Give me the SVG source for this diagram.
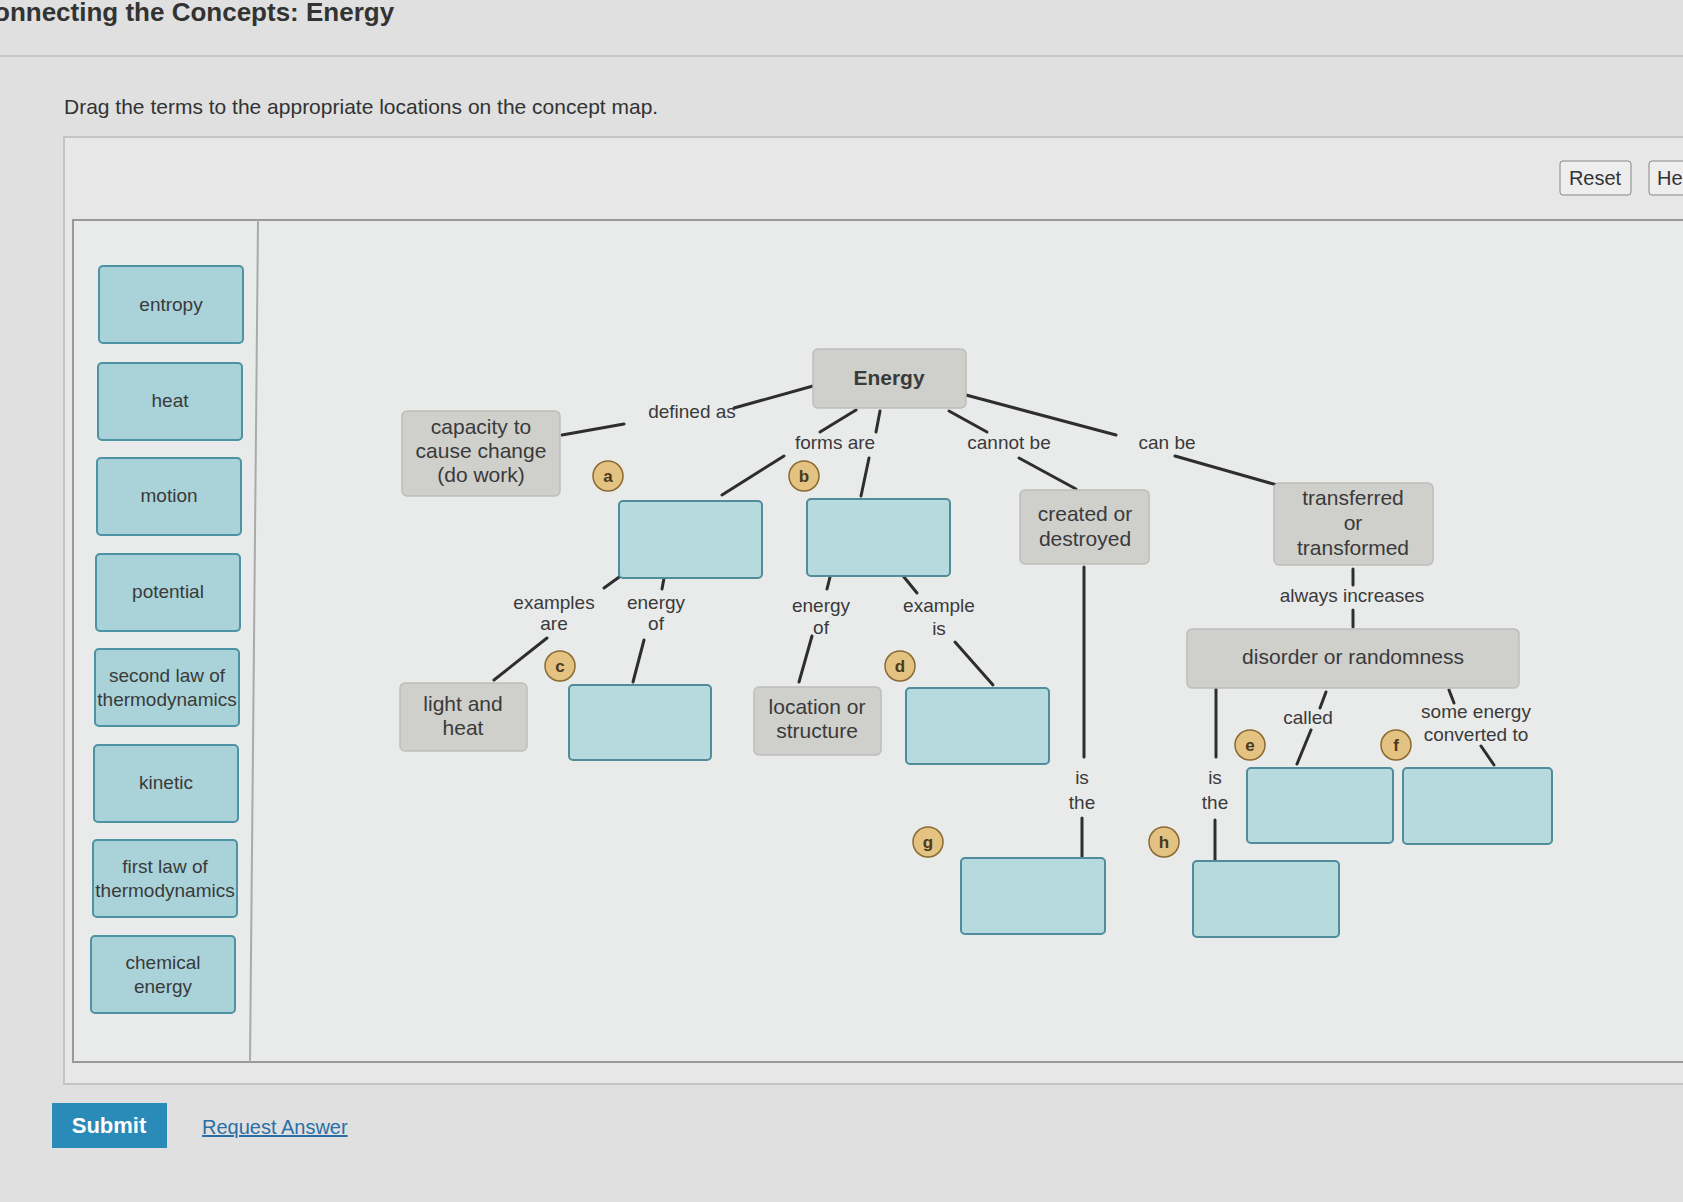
<svg xmlns="http://www.w3.org/2000/svg" width="1683" height="1202" viewBox="0 0 1683 1202">
<style>
text{font-family:"Liberation Sans",Arial,sans-serif;fill:#333}
.tile{fill:#a9d3d9;stroke:#4d93a3;stroke-width:2}
.tt{font-size:19px;text-anchor:middle;fill:#3a3a3a}
.node{fill:#cfcfcc;stroke:#bdbdba;stroke-width:1.5}
.nt{font-size:21px;text-anchor:middle;fill:#3a3a3a}
.drop{fill:#b7dadf;stroke:#4f8d9a;stroke-width:2}
.lab{font-size:19px;text-anchor:middle;fill:#3a3a3a}
.c{stroke:#2e2e2e;stroke-width:3;fill:none;stroke-linecap:round}
.badge circle{fill:#e4c282;stroke:#8a6a30;stroke-width:1.5}
.badge text{font-size:17px;text-anchor:middle;font-weight:bold;fill:#4a3a20}
.white{fill:#fff}
.link{fill:#2a6fa8}
</style>
<rect width="1683" height="1202" fill="#dfe0df"/>
<text x="-6" y="21" font-size="26" font-weight="bold" fill="#444">onnecting the Concepts: Energy</text>
<line x1="0" y1="56" x2="1683" y2="56" stroke="#c8c8c8" stroke-width="2"/>
<text x="64" y="114" font-size="21" fill="#3a3a3a">Drag the terms to the appropriate locations on the concept map.</text>
<rect x="64" y="137" width="1640" height="947" fill="#e6e7e6" stroke="#c4c4c4" stroke-width="2"/>
<rect x="73" y="220" width="1640" height="842" fill="#e9eaea" stroke="#999" stroke-width="2"/>
<line x1="258" y1="220" x2="250" y2="1062" stroke="#aaa" stroke-width="2"/>
<g id="reset"><rect x="1560" y="161" width="71" height="34" rx="3" fill="#eee" stroke="#888"/><text x="1595" y="185" font-size="20" text-anchor="middle" fill="#555">Reset</text></g>
<g id="help"><rect x="1649" y="161" width="50" height="34" rx="3" fill="#eee" stroke="#888"/><text x="1657" y="185" font-size="20" fill="#555">He</text></g>
<g id="palette">
<g id="t-entropy"><rect class="tile" x="99" y="266" width="144" height="77" rx="4"/><text class="tt" x="171" y="311">entropy</text></g>
<g id="t-heat"><rect class="tile" x="98" y="363" width="144" height="77" rx="4"/><text class="tt" x="170" y="407">heat</text></g>
<g id="t-motion"><rect class="tile" x="97" y="458" width="144" height="77" rx="4"/><text class="tt" x="169" y="502">motion</text></g>
<g id="t-potential"><rect class="tile" x="96" y="554" width="144" height="77" rx="4"/><text class="tt" x="168" y="598">potential</text></g>
<g id="t-second"><rect class="tile" x="95" y="649" width="144" height="77" rx="4"/><text class="tt" x="167" y="682">second law of</text><text class="tt" x="167" y="706">thermodynamics</text></g>
<g id="t-kinetic"><rect class="tile" x="94" y="745" width="144" height="77" rx="4"/><text class="tt" x="166" y="789">kinetic</text></g>
<g id="t-first"><rect class="tile" x="93" y="840" width="144" height="77" rx="4"/><text class="tt" x="165" y="873">first law of</text><text class="tt" x="165" y="897">thermodynamics</text></g>
<g id="t-chemical"><rect class="tile" x="91" y="936" width="144" height="77" rx="4"/><text class="tt" x="163" y="969">chemical</text><text class="tt" x="163" y="993">energy</text></g>
</g>
<g id="connectors">
<line class="c" x1="562" y1="435" x2="624" y2="424"/>
<line class="c" x1="734" y1="408" x2="813" y2="386"/>
<line class="c" x1="856" y1="410" x2="820" y2="432"/>
<line class="c" x1="880" y1="411" x2="876" y2="432"/>
<line class="c" x1="784" y1="456" x2="722" y2="495"/>
<line class="c" x1="869" y1="458" x2="861" y2="496"/>
<line class="c" x1="949" y1="411" x2="987" y2="432"/>
<line class="c" x1="1019" y1="458" x2="1076" y2="489"/>
<line class="c" x1="966" y1="395" x2="1116" y2="435"/>
<line class="c" x1="1175" y1="456" x2="1277" y2="485"/>
<line class="c" x1="640" y1="562" x2="604" y2="588"/>
<line class="c" x1="667" y1="562" x2="662" y2="589"/>
<line class="c" x1="547" y1="638" x2="494" y2="680"/>
<line class="c" x1="644" y1="640" x2="633" y2="682"/>
<line class="c" x1="834" y1="561" x2="827" y2="589"/>
<line class="c" x1="891" y1="561" x2="917" y2="593"/>
<line class="c" x1="812" y1="636" x2="799" y2="682"/>
<line class="c" x1="955" y1="642" x2="993" y2="685"/>
<line class="c" x1="1084" y1="567" x2="1084" y2="757"/>
<line class="c" x1="1082" y1="818" x2="1082" y2="858"/>
<line class="c" x1="1353" y1="569" x2="1353" y2="585"/>
<line class="c" x1="1353" y1="610" x2="1353" y2="627"/>
<line class="c" x1="1216" y1="688" x2="1216" y2="757"/>
<line class="c" x1="1215" y1="820" x2="1215" y2="861"/>
<line class="c" x1="1326" y1="692" x2="1320" y2="708"/>
<line class="c" x1="1311" y1="730" x2="1297" y2="764"/>
<line class="c" x1="1449" y1="690" x2="1454" y2="703"/>
<line class="c" x1="1481" y1="746" x2="1494" y2="765"/>
</g>
<g id="linklabels">
<text class="lab" x="692" y="418">defined as</text>
<text class="lab" x="835" y="449">forms are</text>
<text class="lab" x="1009" y="449">cannot be</text>
<text class="lab" x="1167" y="449">can be</text>
<text class="lab" x="554" y="609">examples</text><text class="lab" x="554" y="630">are</text>
<text class="lab" x="656" y="609">energy</text><text class="lab" x="656" y="630">of</text>
<text class="lab" x="821" y="612">energy</text><text class="lab" x="821" y="634">of</text>
<text class="lab" x="939" y="612">example</text><text class="lab" x="939" y="635">is</text>
<text class="lab" x="1082" y="784">is</text><text class="lab" x="1082" y="809">the</text>
<text class="lab" x="1352" y="602">always increases</text>
<text class="lab" x="1215" y="784">is</text><text class="lab" x="1215" y="809">the</text>
<text class="lab" x="1308" y="724">called</text>
<text class="lab" x="1476" y="718">some energy</text><text class="lab" x="1476" y="741">converted to</text>
</g>
<g id="n-energy"><rect class="node" x="813" y="349" width="153" height="59" rx="5"/><text class="nt" x="889" y="385" font-weight="bold">Energy</text></g>
<g id="n-capacity"><rect class="node" x="402" y="411" width="158" height="85" rx="5"/><text class="nt" x="481" y="434">capacity to</text><text class="nt" x="481" y="458">cause change</text><text class="nt" x="481" y="482">(do work)</text></g>
<g id="n-created"><rect class="node" x="1020" y="490" width="129" height="74" rx="5"/><text class="nt" x="1085" y="521">created or</text><text class="nt" x="1085" y="546">destroyed</text></g>
<g id="n-transferred"><rect class="node" x="1274" y="483" width="159" height="82" rx="5"/><text class="nt" x="1353" y="505">transferred</text><text class="nt" x="1353" y="530">or</text><text class="nt" x="1353" y="555">transformed</text></g>
<g id="n-disorder"><rect class="node" x="1187" y="629" width="332" height="59" rx="5"/><text class="nt" x="1353" y="664">disorder or randomness</text></g>
<g id="n-light"><rect class="node" x="400" y="683" width="127" height="68" rx="5"/><text class="nt" x="463" y="711">light and</text><text class="nt" x="463" y="735">heat</text></g>
<g id="n-location"><rect class="node" x="754" y="687" width="127" height="68" rx="5"/><text class="nt" x="817" y="714">location or</text><text class="nt" x="817" y="738">structure</text></g>
<g id="drops">
<rect class="drop" x="619" y="501" width="143" height="77" rx="4"/>
<rect class="drop" x="807" y="499" width="143" height="77" rx="4"/>
<rect class="drop" x="569" y="685" width="142" height="75" rx="4"/>
<rect class="drop" x="906" y="688" width="143" height="76" rx="4"/>
<rect class="drop" x="961" y="858" width="144" height="76" rx="4"/>
<rect class="drop" x="1193" y="861" width="146" height="76" rx="4"/>
<rect class="drop" x="1247" y="768" width="146" height="75" rx="4"/>
<rect class="drop" x="1403" y="768" width="149" height="76" rx="4"/>
</g>
<g id="badges">
<g class="badge"><circle cx="608" cy="476" r="15"/><text x="608" y="482">a</text></g>
<g class="badge"><circle cx="804" cy="476" r="15"/><text x="804" y="482">b</text></g>
<g class="badge"><circle cx="560" cy="666" r="15"/><text x="560" y="672">c</text></g>
<g class="badge"><circle cx="900" cy="666" r="15"/><text x="900" y="672">d</text></g>
<g class="badge"><circle cx="1250" cy="745" r="15"/><text x="1250" y="751">e</text></g>
<g class="badge"><circle cx="1396" cy="745" r="15"/><text x="1396" y="751">f</text></g>
<g class="badge"><circle cx="928" cy="842" r="15"/><text x="928" y="848">g</text></g>
<g class="badge"><circle cx="1164" cy="842" r="15"/><text x="1164" y="848">h</text></g>
</g>
<g id="submit"><rect x="52" y="1103" width="115" height="45" fill="#2a8ab8"/><text class="white" x="109" y="1133" font-size="22" font-weight="bold" text-anchor="middle">Submit</text></g>
<text class="link" x="202" y="1134" font-size="20" text-decoration="underline">Request Answer</text>
</svg>
